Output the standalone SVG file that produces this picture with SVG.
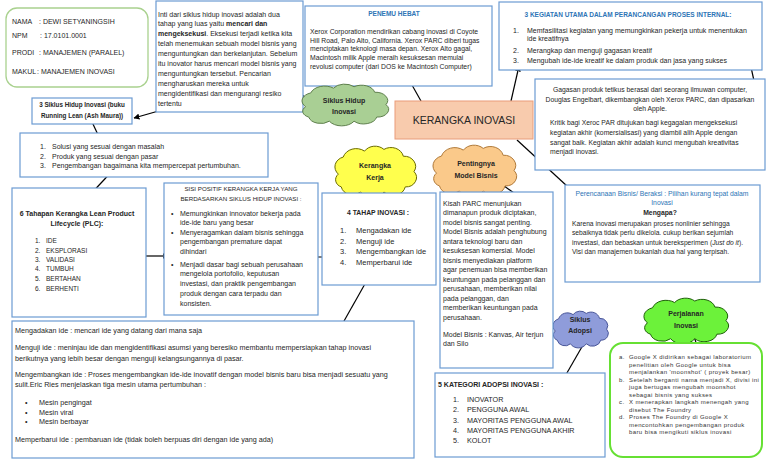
<svg xmlns="http://www.w3.org/2000/svg" width="768" height="466" viewBox="0 0 768 466">
<style>
text{font-family:"Liberation Sans",Arial,sans-serif;fill:#262626;font-size:7px}
.bx{fill:#fff;stroke:#6C9BD2;stroke-width:1.2}
.b{font-weight:bold}
.blue{fill:#2E75B6}
.m{text-anchor:middle}
.c{stroke:#000;stroke-width:1.2;fill:none;marker-end:url(#ah)}
.d{stroke:#000;stroke-width:1.2;fill:none;marker-start:url(#ah);marker-end:url(#ah)}
.cl{font-weight:bold;text-anchor:middle;font-size:7px}
.cg{fill:#A9CF94;stroke:#5E7F4C}
.cy{fill:#FFFF4D;stroke:#6B6B00}
.co{fill:#FAC98A;stroke:#B07A3A}
.cb{fill:#8F9CDA;stroke:#4A5799}
.cgr{fill:#6CF23A;stroke:#1F5F0A}
.f7{font-size:7px}.f65{font-size:6.5px}.f68{font-size:6.8px}
.f57{font-size:6px;letter-spacing:0.4px;fill:#333}
</style>
<defs>
<marker id="ah" viewBox="0 0 10 10" refX="9" refY="5" markerWidth="6" markerHeight="6" orient="auto-start-reverse" markerUnits="userSpaceOnUse"><path d="M0,0 L10,5 L0,10 z" fill="#000"/></marker>
<path id="cloud" vector-effect="non-scaling-stroke" d="M15,35 A12,12 0 0 1 20,15 A14,14 0 0 1 42,8 A13,13 0 0 1 62,6 A13,13 0 0 1 82,14 A12,12 0 0 1 93,32 A11,11 0 0 1 84,50 A13,13 0 0 1 62,56 A14,14 0 0 1 38,56 A12,12 0 0 1 18,50 A9,9 0 0 1 15,35 Z"/>
</defs>

<g id="connectors">
<line class="c" x1="421" y1="101" x2="408" y2="78"/>
<line class="c" x1="511" y1="101" x2="519" y2="66"/>
<line class="c" x1="749" y1="58" x2="756" y2="90"/>
<line class="c" x1="312" y1="102" x2="292" y2="88"/>
<line class="c" x1="162" y1="110" x2="134" y2="118"/>
<line class="c" x1="92" y1="122" x2="100" y2="139"/>
<line class="c" x1="115" y1="168" x2="88" y2="197"/>
<line class="d" x1="138" y1="256" x2="168" y2="256"/>
<line class="d" x1="300" y1="257" x2="335" y2="257"/>
<line class="c" x1="372" y1="190" x2="356" y2="203"/>
<line class="c" x1="370" y1="275" x2="335" y2="337"/>
<line class="c" x1="517" y1="140" x2="580" y2="198"/>
<line class="c" x1="500" y1="183" x2="528" y2="203"/>
<line class="c" x1="583" y1="345" x2="560" y2="385"/>
<line class="c" x1="692" y1="330" x2="699" y2="352"/>
</g>

<g id="identitas">
<rect x="6" y="8" width="142" height="79" rx="11" fill="#fff" stroke="#A9D18E" stroke-width="1.3"/>
<text x="12" y="23.5">NAMA</text><text x="39" y="23.5">: DEWI SETYANINGSIH</text>
<text x="12" y="37.5">NPM</text><text x="40" y="37.5">: 17.0101.0001</text>
<text x="12" y="54.5">PRODI</text><text x="39" y="54.5">: MANAJEMEN (PARALEL)</text>
<text x="12" y="73.5">MAKUL</text><text x="37" y="73.5">: MANAJEMEN INOVASI</text>
</g>

<g id="inti-siklus">
<rect class="bx" x="156" y="1" width="147" height="111"/>
<text x="158" y="16.5">Inti dari siklus hidup inovasi adalah dua</text>
<text x="158" y="26.4">tahap yang luas yaitu <tspan class="b">mencari dan</tspan></text>
<text x="158" y="36.3"><tspan class="b">mengeksekusi</tspan>. Eksekusi terjadi ketika kita</text>
<text x="158" y="46.2">telah menemukan sebuah model bisnis yang</text>
<text x="158" y="56.1">menguntungkan dan berkelanjutan. Sebelum</text>
<text x="158" y="66">itu inovator harus mencari model bisnis yang</text>
<text x="158" y="75.9">menguntungkan tersebut. Pencarian</text>
<text x="158" y="85.8">mengharuskan mereka untuk</text>
<text x="158" y="95.7">mengidentifikasi dan mengurangi resiko</text>
<text x="158" y="105.6">tertentu</text>
</g>

<g id="penemu-hebat">
<rect class="bx" x="305" y="6" width="187" height="80"/>
<text class="b blue m f65" x="394" y="16.3">PENEMU HEBAT</text>
<text class="f68" x="310" y="33.5">Xerox Corporation mendirikan cabang inovasi di Coyote</text>
<text class="f68" x="310" y="42.5">Hill Road, Palo Alto, California. Xerox PARC diberi tugas</text>
<text class="f68" x="310" y="51">menciptakan teknologi masa depan. Xerox Alto gagal,</text>
<text class="f68" x="310" y="60">Macintosh milik Apple meraih kesuksesan memulai</text>
<text class="f68" x="310" y="69">revolusi computer (dari DOS ke Macintosh Computer)</text>
</g>

<g id="kegiatan-utama">
<rect class="bx" x="499" y="2" width="263" height="68"/>
<text class="b blue m f65" x="628" y="17.3">3 KEGIATAN UTAMA DALAM PERANCANGAN PROSES INTERNAL:</text>
<text x="513" y="33">1.</text><text x="527" y="33">Memfasilitasi kegiatan yang memungkinkan pekerja untuk menentukan</text>
<text x="527" y="40.8">ide kreatifnya</text>
<text x="513" y="52.5">2.</text><text x="527" y="52.5">Merangkap dan menguji gagasan kreatif</text>
<text x="513" y="63.2">3.</text><text x="527" y="63.2">Mengubah ide-ide kreatif ke dalam produk dan jasa yang sukses</text>
</g>

<g id="gagasan">
<rect class="bx" x="535" y="79" width="230" height="91"/>
<text class="m f68" x="650" y="92.4">Gagasan produk tetikus berasal dari seorang ilmuwan computer,</text>
<text class="m f68" x="650" y="102.4">Douglas Engelbart, dikembangkan oleh Xerox PARC, dan dipasarkan</text>
<text class="m f68" x="650" y="111.4">oleh Apple.</text>
<text class="f68" x="550" y="125.4">Kritik bagi Xeroc PAR ditujukan bagi kegagalan mengeksekusi</text>
<text class="f68" x="550" y="135.4">kegiatan akhir (komersialisasi) yang diambil alih Apple dengan</text>
<text class="f68" x="550" y="145.4">sangat baik. Kegiatan akhir adalah kunci mengubah kreativitas</text>
<text class="f68" x="550" y="154.4">menjadi inovasi.</text>
</g>

<g id="kerangka-inovasi">
<rect x="395" y="101" width="138" height="38" fill="#F8CBAD" stroke="#E99C7A" stroke-width="1"/>
<text class="m" x="464" y="124.3" style="font-size:10.5px">KERANGKA INOVASI</text>
</g>

<g id="siklus-hidup-inovasi">
<use href="#cloud" class="cg" transform="translate(290.2,82.6) scale(1.03,0.689)"/>
<text class="cl" x="344" y="103">Siklus Hidup</text>
<text class="cl" x="344" y="114">Inovasi</text>
</g>

<g id="kerangka-kerja">
<use href="#cloud" class="cy" transform="translate(323.8,144.3) scale(0.97,0.852)"/>
<text class="cl" x="375" y="168">Kerangka</text>
<text class="cl" x="375" y="180">Kerja</text>
</g>

<g id="pentingnya-model-bisnis">
<use href="#cloud" class="co" transform="translate(421.6,143.3) scale(0.994,0.852)"/>
<text class="cl" x="476" y="166">Pentingnya</text>
<text class="cl" x="476" y="177.5">Model Bisnis</text>
</g>

<g id="siklus-adopsi">
<use href="#cloud" class="cb" transform="translate(545.4,309.8) scale(0.659,0.607)"/>
<text class="cl" x="580" y="321.5">Siklus</text>
<text class="cl" x="580" y="332.5">Adopsi</text>
</g>

<g id="perjalanan-inovasi">
<use href="#cloud" class="cgr" transform="translate(632.4,296.5) scale(1.006,0.754)"/>
<text class="cl" x="686" y="315.5">Perjalanan</text>
<text class="cl" x="686" y="328">Inovasi</text>
</g>

<g id="tiga-siklus">
<rect class="bx" x="32" y="98" width="100" height="26"/>
<text class="b m" x="82" y="107.4" style="font-size:6.3px">3 Siklus Hidup Inovasi (buku</text>
<text class="b m" x="82" y="118.4" style="font-size:6.3px">Running Lean (Ash Maura))</text>
</g>

<g id="daftar-siklus">
<rect class="bx" x="20" y="133" width="248" height="44"/>
<text x="40" y="148.5">1.</text><text x="52" y="148.5">Solusi yang sesuai dengan masalah</text>
<text x="40" y="158.5">2.</text><text x="52" y="158.5">Produk yang sesuai dengan pasar</text>
<text x="40" y="167.5">3.</text><text x="52" y="167.5">Pengembangan bagaimana kita mempercepat pertumbuhan.</text>
</g>

<g id="enam-tahapan">
<rect class="bx" x="12" y="188" width="134" height="129"/>
<text class="b m" x="77" y="215.5">6 Tahapan Kerangka Lean Product</text>
<text class="b m" x="77" y="225.5">Lifecycle (PLC):</text>
<text class="f65" x="35" y="243.3">1.</text><text class="f65" x="46" y="243.3">IDE</text>
<text class="f65" x="35" y="253.3">2.</text><text class="f65" x="46" y="253.3">EKSPLORASI</text>
<text class="f65" x="35" y="262.3">3.</text><text class="f65" x="46" y="262.3">VALIDASI</text>
<text class="f65" x="35" y="271.3">4.</text><text class="f65" x="46" y="271.3">TUMBUH</text>
<text class="f65" x="35" y="281.3">5.</text><text class="f65" x="46" y="281.3">BERTAHAN</text>
<text class="f65" x="35" y="291.3">6.</text><text class="f65" x="46" y="291.3">BERHENTI</text>
</g>

<g id="sisi-positif">
<rect class="bx" x="164" y="183" width="154" height="132"/>
<text class="m" x="241" y="191.2" style="font-size:6.2px">SISI POSITIF KERANGKA KERJA YANG</text>
<text class="m" x="241" y="201.2" style="font-size:6.2px">BERDASARKAN SIKLUS HIDUP INOVASI :</text>
<text x="171" y="216">•</text><text x="180" y="216">Memungkinkan innovator bekerja pada</text>
<text x="180" y="225">ide-ide baru yang besar</text>
<text x="171" y="234.5">•</text><text x="180" y="234.5">Menyeragamkan dalam bisnis sehingga</text>
<text x="180" y="244">pengembangan premature dapat</text>
<text x="180" y="253.5">dihindari</text>
<text x="171" y="266.5">•</text><text x="180" y="266.5">Menjadi dasar bagi sebuah perusahaan</text>
<text x="180" y="276">mengelola portofolio, keputusan</text>
<text x="180" y="286">investasi, dan praktik pengembangan</text>
<text x="180" y="295.5">produk dengan cara terpadu dan</text>
<text x="180" y="305.5">konsisten.</text>
</g>

<g id="empat-tahap">
<rect class="bx" x="322" y="193" width="114" height="92"/>
<text class="b m f68" x="378" y="215.4">4 TAHAP INOVASI :</text>
<text x="340" y="232.7" style="font-size:7.5px">1.</text><text x="356" y="232.7" style="font-size:7.5px">Mengadakan ide</text>
<text x="340" y="243.7" style="font-size:7.5px">2.</text><text x="356" y="243.7" style="font-size:7.5px">Menguji ide</text>
<text x="340" y="253.7" style="font-size:7.5px">3.</text><text x="356" y="253.7" style="font-size:7.5px">Mengembangkan ide</text>
<text x="340" y="264.7" style="font-size:7.5px">4.</text><text x="356" y="264.7" style="font-size:7.5px">Memperbarui ide</text>
</g>

<g id="kisah-parc">
<rect class="bx" x="440" y="192" width="113" height="176"/>
<text x="443" y="205.5">Kisah PARC menunjukan</text>
<text x="443" y="215">dimanapun produk diciptakan,</text>
<text x="443" y="224.5">model bisnis sangat penting.</text>
<text x="443" y="234">Model Bisnis adalah penghubung</text>
<text x="443" y="243.5">antara teknologi baru dan</text>
<text x="443" y="253">kesuksesan komersial. Model</text>
<text x="443" y="262.5">bisnis menyediakan platform</text>
<text x="443" y="272">agar penemuan bisa memberikan</text>
<text x="443" y="281.5">keuntungan pada pelanggan dan</text>
<text x="443" y="291">perusahaan, memberikan nilai</text>
<text x="443" y="300.5">pada pelanggan, dan</text>
<text x="443" y="310">memberikan keuntungan pada</text>
<text x="443" y="319.5">perusahaan.</text>
<text x="443" y="336.5">Model Bisnis : Kanvas, Air terjun</text>
<text x="443" y="345.5">dan Silo</text>
</g>

<g id="perencanaan-bisnis">
<rect class="bx" x="565" y="185" width="195" height="97"/>
<text class="blue m f68" x="662" y="196.4">Perencanaan Bisnis/ Beraksi : Pilihan kurang tepat dalam</text>
<text class="blue m f68" x="662" y="205.4">Inovasi</text>
<text class="b m f68" x="660" y="215.4">Mengapa?</text>
<text x="572" y="226.4" style="font-size:6.7px">Karena inovasi merupakan proses nonlinier sehingga</text>
<text x="572" y="235.4" style="font-size:6.7px">sebaiknya tidak perlu dikelola. cukup berikan sejumlah</text>
<text x="572" y="245.4" style="font-size:6.7px">investasi, dan bebaskan untuk bereksperimen (<tspan font-style="italic">Just do it</tspan>).</text>
<text x="572" y="254.4" style="font-size:6.7px">Visi dan manajemen bukanlah dua hal yang terpisah.</text>
</g>

<g id="penjelasan-tahap">
<rect class="bx" x="12" y="321" width="402" height="137"/>
<text x="15" y="332.5" style="font-size:7.2px">Mengadakan ide : mencari ide yang datang dari mana saja</text>
<text x="15" y="349.5" style="font-size:7.2px">Menguji ide : meninjau ide dan mengidentifikasi asumsi yang beresiko membantu mempersiapkan tahap inovasi</text>
<text x="15" y="360.5" style="font-size:7.2px">berikutnya yang lebih besar dengan menguji kelangsungannya di pasar.</text>
<text x="15" y="376.5" style="font-size:7.2px">Mengembangkan ide : Proses mengembangkan ide-ide inovatif dengan model bisnis baru bisa menjadi sesuatu yang</text>
<text x="15" y="386.5" style="font-size:7.2px">sulit.Eric Ries menjelaskan tiga mesin utama pertumbuhan :</text>
<text x="25" y="404.5" style="font-size:7.2px">•</text><text x="39" y="404.5" style="font-size:7.2px">Mesin pengingat</text>
<text x="25" y="414.5" style="font-size:7.2px">•</text><text x="39" y="414.5" style="font-size:7.2px">Mesin viral</text>
<text x="25" y="423.5" style="font-size:7.2px">•</text><text x="39" y="423.5" style="font-size:7.2px">Mesin berbayar</text>
<text x="15" y="441.5" style="font-size:7.2px">Memperbarui ide : pembaruan ide (tidak boleh berpuas diri dengan ide yang ada)</text>
</g>

<g id="kategori-adopsi">
<rect class="bx" x="435" y="373" width="170" height="84"/>
<text class="b" x="438" y="386.5">5 KATEGORI ADOPSI INOVASI :</text>
<text x="453" y="401.5" style="font-size:7.2px">1.</text><text x="467" y="401.5" style="font-size:7.2px">INOVATOR</text>
<text x="453" y="411.5" style="font-size:7.2px">2.</text><text x="467" y="411.5" style="font-size:7.2px">PENGGUNA AWAL</text>
<text x="453" y="422.5" style="font-size:7.2px">3.</text><text x="467" y="422.5" style="font-size:7.2px">MAYORITAS PENGGUNA AWAL</text>
<text x="453" y="432.5" style="font-size:7.2px">4.</text><text x="467" y="432.5" style="font-size:7.2px">MAYORITAS PENGGUNA AKHIR</text>
<text x="453" y="442.5" style="font-size:7.2px">5.</text><text x="467" y="442.5" style="font-size:7.2px">KOLOT</text>
</g>

<g id="google-x">
<rect x="610" y="343" width="152" height="114" rx="13" fill="#fff" stroke="#66E033" stroke-width="2"/>
<text class="f57" x="619" y="359">a.</text><text class="f57" x="629" y="359">Google X didirikan sebagai laboratorium</text>
<text class="f57" x="629" y="366.5">penelitian oleh Google untuk bisa</text>
<text class="f57" x="629" y="374">menjalankan 'moonshot' ( proyek besar)</text>
<text class="f57" x="619" y="381.5">b.</text><text class="f57" x="629" y="381.5">Setelah berganti nama menjadi X, divisi ini</text>
<text class="f57" x="629" y="389">juga bertugas mengubah moonshot</text>
<text class="f57" x="629" y="396.5">sebagai bisnis yang sukses</text>
<text class="f57" x="619" y="404">c.</text><text class="f57" x="629" y="404">X menerapkan langkah menengah yang</text>
<text class="f57" x="629" y="411.5">disebut The Foundry</text>
<text class="f57" x="619" y="419">d.</text><text class="f57" x="629" y="419">Proses The Foundry di Google X</text>
<text class="f57" x="629" y="426.5">mencontohkan pengembangan produk</text>
<text class="f57" x="629" y="434">baru bisa mengikuti siklus inovasi</text>
</g>
</svg>
